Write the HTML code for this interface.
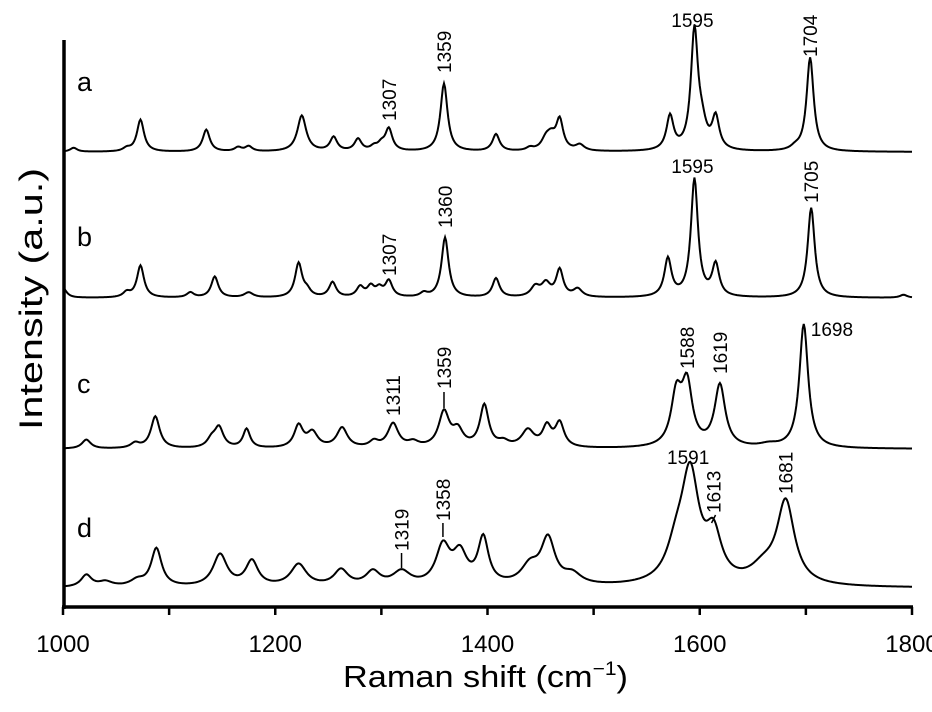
<!DOCTYPE html>
<html><head><meta charset="utf-8">
<style>
html,body{margin:0;padding:0;background:#fff;}
svg{display:block;font-family:"Liberation Sans",sans-serif;}
</style></head>
<body>
<svg id="chart" width="932" height="712" viewBox="0 0 932 712">
<g id="traces"></g>
<line x1="64" y1="40" x2="64" y2="609" stroke="#000" stroke-width="3.5"/>
<line x1="62" y1="607" x2="913" y2="607" stroke="#000" stroke-width="3.5"/>
<g id="ticks"></g>
<text x="343" y="687" font-size="31" textLength="285" lengthAdjust="spacingAndGlyphs">Raman shift (cm<tspan dy="-12" font-size="19">−1</tspan><tspan dy="12">)</tspan></text>
<text transform="translate(42,430) rotate(-90)" font-size="32" textLength="262" lengthAdjust="spacingAndGlyphs">Intensity (a.u.)</text>
<g font-size="27">
<text x="77" y="91">a</text>
<text x="77" y="246">b</text>
<text x="77" y="393">c</text>
<text x="77" y="537">d</text>
</g>
<g id="annots" font-size="19"></g>
</svg>
<script>
const xMin = 1000, xMax = 1800;
const xTickLabels = [1000, 1200, 1400, 1600, 1800];
const xMinorTicks = [1100, 1300, 1500, 1700];
// peaks: position, height, half-width
const aPos = [1010,1060,1073,1135,1165,1175,1225,1255,1278,1293,1300,1307,1359,1408,1440,1455,1460,1468,1487,1572,1595,1602,1615,1690,1704];
const aHgt = [4,3,32,22,4,5,36,14,12,4,6,22,68,17,3,10,12,30,6,34,118,20,32,3,94];
const aWid = [4,4,4,4,4,4,5,4,4,4,4,4,4,4,4,5,5,4,5,4,4,5,4,5,4];
const bPos = [1000,1060,1073,1120,1143,1175,1222,1230,1254,1280,1290,1298,1307,1340,1360,1408,1445,1455,1468,1485,1570,1595,1615,1705,1792];
const bHgt = [10,5,32,5,21,5,34,6,15,10,10,8,16,4,60,19,10,13,27,8,38,118,32,90,3];
const bWid = [4,4,4,4,4,5,4,4,4,4,4,4,4,4,4,4,5,5,4,5,4,4,4,4,4];
const cPos = [1022,1068,1087,1140,1147,1173,1222,1235,1263,1293,1311,1330,1359,1372,1397,1415,1438,1456,1468,1578,1588,1619,1665,1698];
const cHgt = [9,5,32,8,20,19,22,15,20,6,24,5,35,16,42,5,17,20,24,50,60,62,3,124];
const cWid = [5,5,5,5,5,4,5,6,6,5,6,6,6,6,5,6,7,5,5,6,6,6,10,5];
const dPos = [1022,1040,1070,1088,1148,1178,1222,1262,1292,1319,1358,1374,1396,1440,1457,1480,1578,1591,1613,1660,1681];
const dHgt = [12,5,6,38,32,25,22,16,14,14,38,30,46,18,45,10,30,105,45,15,82];
const dWid = [6,8,8,6,8,7,9,8,8,10,8,8,6,10,8,10,11,10,9,15,10];
const baselines = [152, 298, 449, 588];

const px = x => 63 + (x - xMin) * (912 - 63) / (xMax - xMin);
const NS = "http://www.w3.org/2000/svg";

function spectrum(pos, hgt, wid, base, name) {
  let d = "";
  for (let x = xMin; x <= xMax; x += 1) {
    let s = 0;
    for (let i = 0; i < pos.length; i++) {
      const dx = x - pos[i];
      s += hgt[i] * wid[i] * wid[i] / (dx * dx + wid[i] * wid[i]);
    }
    d += (x === xMin ? "M" : "L") + px(x).toFixed(2) + "," + (base - s).toFixed(2);
  }
  const p = document.createElementNS(NS, "path");
  p.setAttribute("d", d);
  p.setAttribute("fill", "none");
  p.setAttribute("stroke", "#000");
  p.setAttribute("stroke-width", "2");
  
  
  document.getElementById("traces").appendChild(p);
}
spectrum(aPos, aHgt, aWid, baselines[0], "spectrum-a");
spectrum(bPos, bHgt, bWid, baselines[1], "spectrum-b");
spectrum(cPos, cHgt, cWid, baselines[2], "spectrum-c");
spectrum(dPos, dHgt, dWid, baselines[3], "spectrum-d");

const tg = document.getElementById("ticks");
xTickLabels.concat(xMinorTicks).forEach(v => {
  const l = document.createElementNS(NS, "line");
  l.setAttribute("x1", px(v)); l.setAttribute("x2", px(v));
  l.setAttribute("y1", 607); l.setAttribute("y2", 615);
  l.setAttribute("stroke", "#000"); l.setAttribute("stroke-width", "2.5");
  
  
  tg.appendChild(l);
});
xTickLabels.forEach(v => {
  const t = document.createElementNS(NS, "text");
  t.setAttribute("x", px(v)); t.setAttribute("y", 652);
  t.setAttribute("font-size", "24"); t.setAttribute("text-anchor", "middle");
  t.textContent = v;
  
  
  tg.appendChild(t);
});

const annText = ["1595","1704","1359","1307","1595","1705","1360","1307","1698","1588","1619","1359","1311","1591","1613","1681","1358","1319"];
const annX = [1595,1704,1359,1307,1595,1705,1360,1307,1698,1588,1619,1359,1311,1591,1613,1681,1358,1319];
const annY = [27,57,73,121,173,203,228,276,336,369,374,389,416,464,513,494,521,551];
const annRot = [0,1,1,1,0,1,1,1,0,1,1,1,1,0,1,1,1,1];
const annLine1 = [0,0,0,0,0,0,0,0,0,0,0,392,0,0,515,0,523,553];
const annLine2 = [0,0,0,0,0,0,0,0,0,0,0,408,0,0,523,0,537,568];
const ag = document.getElementById("annots");
annText.forEach((s, i) => {
  const t = document.createElementNS(NS, "text");
  const x = px(annX[i]);
  t.textContent = s;
  
  
  if (annRot[i]) {
    t.setAttribute("transform", "translate(" + (x + 7) + "," + annY[i] + ") rotate(-90)");
  } else if (s === "1698") {
    t.setAttribute("x", x + 7); t.setAttribute("y", annY[i]);
  } else {
    t.setAttribute("x", x - 2); t.setAttribute("y", annY[i]); t.setAttribute("text-anchor", "middle");
  }
  ag.appendChild(t);
  if (annLine1[i]) {
    const l = document.createElementNS(NS, "line");
    l.setAttribute("x1", x + (s === "1613" ? 2 : 0)); l.setAttribute("x2", x - (s === "1613" ? 2 : 0));
    l.setAttribute("y1", annLine1[i]); l.setAttribute("y2", annLine2[i]);
    l.setAttribute("stroke", "#000"); l.setAttribute("stroke-width", "1.5");
    
    
    ag.appendChild(l);
  }
});
</script>
</body></html>
